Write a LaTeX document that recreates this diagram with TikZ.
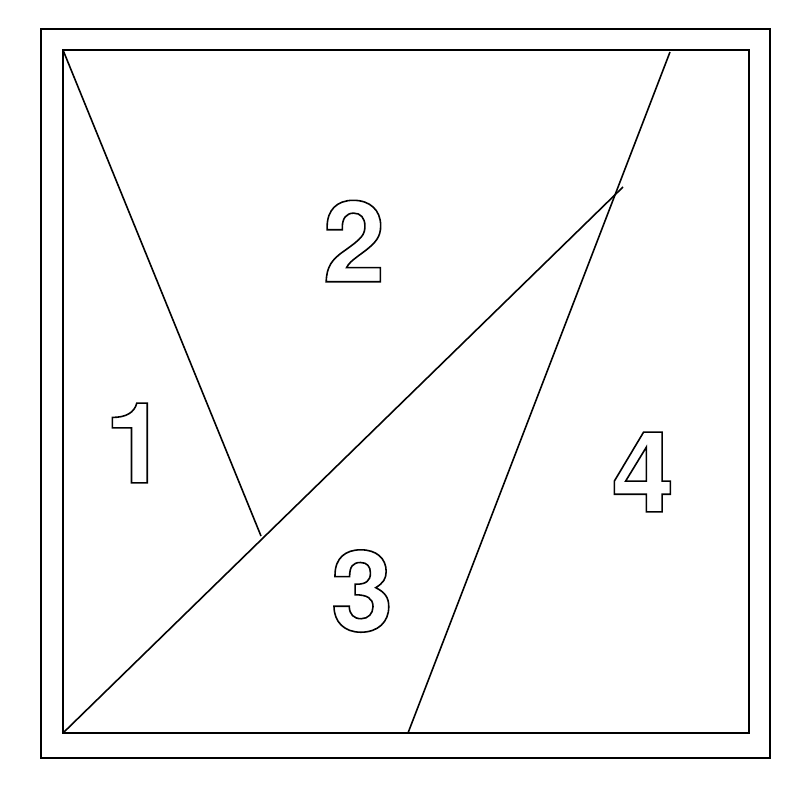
\documentclass[tikz,border=0pt]{standalone}
\usepackage{fontspec}
\usepackage{tikz}
\setsansfont{TeX Gyre Heros}
\tikzstyle{frame} = [draw, line width=1.2pt]
\tikzstyle{cut} = [draw, line width=0.9pt]
\tikzstyle{piece} = [font=\sffamily\bfseries\fontsize{64}{64}\selectfont, inner sep=0pt]
\newcommand{\piecenum}[1]{\special{pdf:literal direct 1 Tr 0.9 w}#1\special{pdf:literal direct 0 Tr}}

\begin{document}
\begin{tikzpicture}[x=0.02cm,y=-0.02cm]
	\useasboundingbox (0,0) rectangle (808,785);

	% ------------------- Frames ------------------- %
	\draw[frame] (41,29) rectangle (770,758);
	\draw[frame] (63,50) rectangle (749,733);

	\coordinate (tl) at (63,50);
	\coordinate (bl) at (63,733);
	\coordinate (foot) at (261,536);
	\coordinate (cross) at (623,187);
	\coordinate (top) at (670,52);
	\coordinate (bottom) at (408,733);

	% ------------------- Cut lines ------------------- %
	\draw[cut] (tl) -- (foot);
	\draw[cut] (bl) -- (cross);
	\draw[cut] (top) -- (bottom);

	% ------------------- Piece numbers ------------------- %
	\node[piece] (one) at (136,443) {\piecenum{1}};
	\node[piece] (two) at (354,241) {\piecenum{2}};
	\node[piece] (three) at (362,591) {\piecenum{3}};
	\node[piece] (four) at (643,472) {\piecenum{4}};

\end{tikzpicture}
\end{document}
